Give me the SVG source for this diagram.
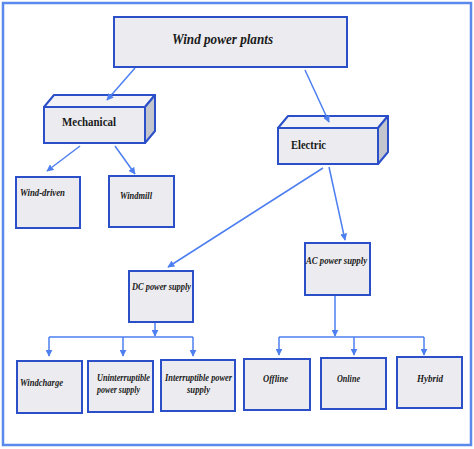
<svg xmlns="http://www.w3.org/2000/svg" width="474" height="449" viewBox="0 0 474 449">
<defs>
<style>
.box{fill:#ececf0;stroke:#2a4fc8;stroke-width:2}
.top{fill:#f3f3f7;stroke:#2a4fc8;stroke-width:2;stroke-linejoin:round}
.side{fill:#c3c6cc;stroke:#2a4fc8;stroke-width:2;stroke-linejoin:round}
.t{font-family:"Liberation Serif",serif;font-weight:bold;font-style:italic;fill:#1a1a1a}
.n{font-family:"Liberation Serif",serif;font-weight:bold;fill:#1a1a1a}
.c{fill:none;stroke:#4d7ff0;stroke-width:1.5}
</style>
<marker id="ah" viewBox="0 0 10 10" refX="9" refY="5" markerWidth="7" markerHeight="7" orient="auto" markerUnits="userSpaceOnUse">
<path d="M0,0 L10,5 L0,10 z" fill="#4d7ff0"/>
</marker>
</defs>
<rect x="3" y="3" width="468" height="442" fill="#ffffff" stroke="#5b88ec" stroke-width="2.5"/>
<g id="wind-power-plants">
<rect class="box" x="114" y="17" width="233" height="50"/>
<text class="t" x="172" y="44" font-size="14" textLength="101" lengthAdjust="spacingAndGlyphs">Wind power plants</text>
</g>
<g id="mechanical">
<polygon class="top" points="44,107 54,95 155,95 145,107"/>
<polygon class="side" points="145,107 155,95 155,131 145,143"/>
<rect class="box" x="44" y="107" width="101" height="36"/>
<text class="n" x="62" y="126" font-size="12" textLength="54" lengthAdjust="spacingAndGlyphs">Mechanical</text>
</g>
<g id="electric">
<polygon class="top" points="278,128 288,116 388,116 378,128"/>
<polygon class="side" points="378,128 388,116 388,152 378,164"/>
<rect class="box" x="278" y="128" width="100" height="36"/>
<text class="n" x="291" y="149" font-size="12" textLength="35" lengthAdjust="spacingAndGlyphs">Electric</text>
</g>
<g id="wind-driven">
<rect class="box" x="16" y="177" width="64" height="51"/>
<text class="t" x="20" y="196" font-size="9.5" textLength="45" lengthAdjust="spacingAndGlyphs">Wind-driven</text>
</g>
<g id="windmill">
<rect class="box" x="109" y="176" width="65" height="51"/>
<text class="t" x="120" y="199" font-size="9.5" textLength="32" lengthAdjust="spacingAndGlyphs">Windmill</text>
</g>
<g id="ac-power-supply">
<rect class="box" x="305" y="243" width="65" height="52"/>
<text class="t" x="306" y="264" font-size="9.5" textLength="61" lengthAdjust="spacingAndGlyphs">AC power supply</text>
</g>
<g id="dc-power-supply">
<rect class="box" x="129" y="271" width="64" height="51"/>
<text class="t" x="132" y="290" font-size="9.5" textLength="59" lengthAdjust="spacingAndGlyphs">DC power supply</text>
</g>
<g id="windcharge">
<rect class="box" x="17" y="361" width="65" height="52"/>
<text class="t" x="20" y="386" font-size="9.5" textLength="43" lengthAdjust="spacingAndGlyphs">Windcharge</text>
</g>
<g id="uninterruptible">
<rect class="box" x="88" y="361" width="65" height="51"/>
<text class="t" x="97" y="381" font-size="9.5" textLength="53" lengthAdjust="spacingAndGlyphs">Uninterruptible</text>
<text class="t" x="97" y="393" font-size="9.5" textLength="43" lengthAdjust="spacingAndGlyphs">power supply</text>
</g>
<g id="interruptible">
<rect class="box" x="161" y="360" width="74" height="51"/>
<text class="t" x="165" y="381" font-size="9.5" textLength="67" lengthAdjust="spacingAndGlyphs">Interruptible power</text>
<text class="t" x="187" y="393" font-size="9.5" textLength="23" lengthAdjust="spacingAndGlyphs">supply</text>
</g>
<g id="offline">
<rect class="box" x="244" y="359" width="66" height="51"/>
<text class="t" x="263" y="382" font-size="9.5" textLength="25" lengthAdjust="spacingAndGlyphs">Offline</text>
</g>
<g id="online">
<rect class="box" x="321" y="358" width="65" height="51"/>
<text class="t" x="337" y="382" font-size="9.5" textLength="23" lengthAdjust="spacingAndGlyphs">Online</text>
</g>
<g id="hybrid">
<rect class="box" x="397" y="357" width="65" height="51"/>
<text class="t" x="417" y="382" font-size="9.5" textLength="26" lengthAdjust="spacingAndGlyphs">Hybrid</text>
</g>
<g id="connectors">
<line class="c" x1="135" y1="68" x2="107" y2="100" marker-end="url(#ah)"/>
<line class="c" x1="305" y1="70" x2="329" y2="122" marker-end="url(#ah)"/>
<line class="c" x1="80" y1="146" x2="47" y2="171" marker-end="url(#ah)"/>
<line class="c" x1="115" y1="146" x2="135" y2="174" marker-end="url(#ah)"/>
<line class="c" x1="323" y1="168" x2="168" y2="267" marker-end="url(#ah)"/>
<line class="c" x1="329" y1="167" x2="345" y2="240" marker-end="url(#ah)"/>
<line class="c" x1="155" y1="323" x2="155" y2="336" marker-end="url(#ah)"/>
<polyline class="c" points="49,337 193,337"/>
<line class="c" x1="49" y1="337" x2="49" y2="356" marker-end="url(#ah)"/>
<line class="c" x1="123" y1="337" x2="123" y2="356" marker-end="url(#ah)"/>
<line class="c" x1="193" y1="337" x2="193" y2="356" marker-end="url(#ah)"/>
<line class="c" x1="335" y1="296" x2="335" y2="336" marker-end="url(#ah)"/>
<polyline class="c" points="279,337 424,337"/>
<line class="c" x1="279" y1="337" x2="279" y2="355" marker-end="url(#ah)"/>
<line class="c" x1="354" y1="337" x2="354" y2="355" marker-end="url(#ah)"/>
<line class="c" x1="424" y1="337" x2="424" y2="355" marker-end="url(#ah)"/>
</g>
</svg>
